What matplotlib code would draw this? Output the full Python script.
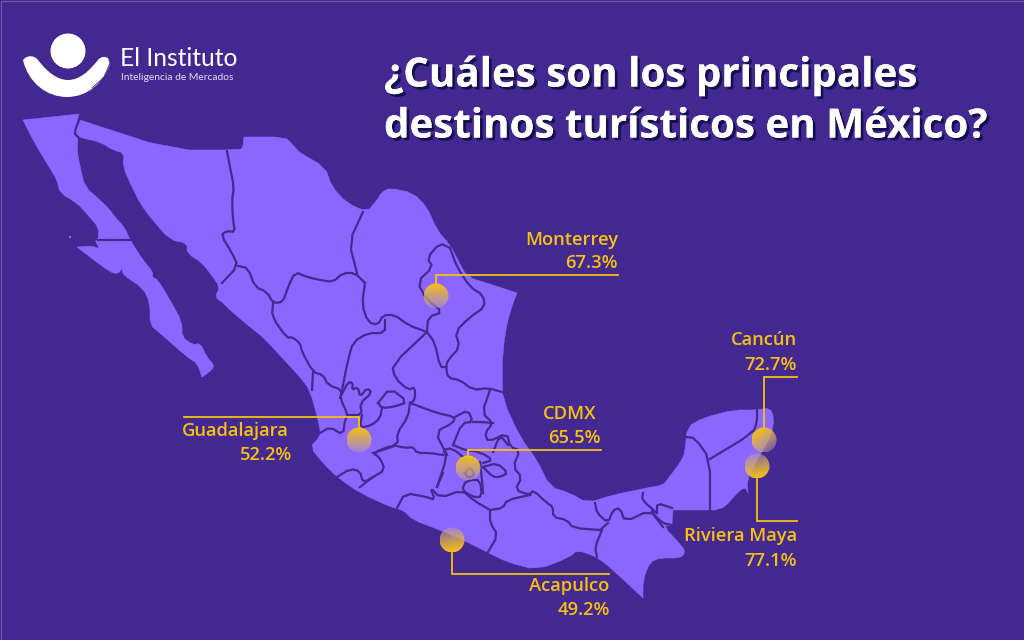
import numpy as np
import matplotlib
matplotlib.use("Agg")
import matplotlib.pyplot as plt
import matplotlib.patheffects as pe
from matplotlib.patches import Circle, PathPatch, Polygon
from matplotlib.path import Path

BG = "#432891"
LAND = "#8b66ff"
BORDER = "#46298f"
GOLD = "#f5c211"
MARKER_R = 12.5

# Destinos y ocupacion
cities = ["Monterrey", "Cancún", "CDMX", "Guadalajara", "Riviera Maya", "Acapulco"]
percent = [67.3, 72.7, 65.5, 52.2, 77.1, 49.2]

# Posicion de cada marcador en el mapa (px)
city_x = [436, 764, 468, 359, 757, 452]
city_y = [296, 440, 468, 440, 466, 540]
# Esquina y final de la linea guia
elbow_y = [275, 377, 450, 417, 521, 574]
end_x = [618, 797, 601, 184, 797, 609]
# Centro vertical del nombre y del porcentaje, y borde derecho del texto
name_y = [240, 340, 414, 431, 536, 586]
pct_y = [263, 365, 438, 455, 561, 610]
text_right = [618, 797, 596, 289, 797, 609]
pct_right = [618, 797, 601, 292, 797, 610]
# Angulo hacia el lado dorado del degradado (grados, 90 = arriba)
fade_angle = [90, 125, 90, 90, 280, 280]

# Contornos trazados del mapa (los puntos repetidos son esquinas vivas)
baja = [(79, 114), (79, 114), (74, 133), (78, 137), (77, 150), (80, 167), (85, 187), (100, 200), (110, 210),
        (115, 217), (125, 228), (130, 240), (143, 260), (153, 272), (152, 277), (158, 280), (170, 300), (182, 322),
        (182, 337), (193, 345), (200, 343), (207, 357), (214, 365), (212, 370), (202, 377), (202, 377), (197, 363),
        (187, 357), (160, 333), (150, 325), (150, 303), (143, 288), (123, 275), (122, 268), (118, 274), (110, 272),
        (90, 257), (77, 247), (77, 247), (92, 246), (100, 249), (95, 241), (98, 240), (99, 228), (88, 215),
        (77, 203), (60, 193), (57, 180), (48, 165), (37, 147), (28, 130), (23, 120), (23, 120)]
mainland = [(80, 120), (80, 120), (172, 150), (240, 150), (243, 147), (244, 137), (244, 137), (285, 137), (293, 145),
            (300, 153), (325, 167), (332, 187), (347, 203), (367, 212), (377, 200), (382, 192), (390, 188), (413, 193),
            (427, 207), (437, 230), (450, 245), (458, 260), (467, 277), (493, 285), (517, 293), (517, 293), (513, 303),
            (507, 323), (503, 350), (502, 377), (503, 400), (520, 437), (537, 460), (550, 487), (570, 493),
            (587, 503), (613, 495), (637, 490), (647, 488), (663, 485), (667, 480), (680, 463), (685, 453),
            (687, 427), (703, 418), (733, 410), (757, 410), (770, 408), (774, 418), (772, 433), (767, 443),
            (757, 460), (747, 480), (748, 493), (748, 493), (745, 487), (737, 493), (725, 507), (715, 510), (715, 510),
            (673, 510), (673, 510), (672, 525), (672, 525), (663, 526), (683, 547), (685, 553), (680, 558), (660, 558),
            (650, 562), (643, 580), (643, 598), (643, 598), (613, 570), (597, 557), (577, 550), (570, 557), (537, 570),
            (507, 562), (487, 552), (463, 540), (440, 530), (413, 520), (403, 510), (393, 508), (360, 493), (337, 477),
            (323, 463), (310, 447), (320, 437), (320, 427), (310, 390), (300, 377), (287, 363), (263, 337),
            (250, 327), (230, 310), (223, 303), (215, 297), (220, 287), (210, 273), (202, 263), (187, 253),
            (187, 243), (170, 240), (150, 217), (140, 203), (132, 187), (123, 167), (124, 153), (113, 150),
            (100, 142), (78, 137), (74, 133)]
borders = [
    [(98, 240), (130, 240)],
    [(80, 118), (74, 133), (78, 137)],
    [(227, 151), (230, 167), (234, 187), (232, 200), (233, 220), (235, 232), (227, 231), (221, 235), (232, 253), (238, 266), (222, 283)],
    [(238, 266), (248, 268), (255, 287), (267, 292), (273, 303), (283, 302), (288, 287), (295, 272), (307, 277), (320, 280), (333, 282), (343, 273), (355, 273), (365, 283)],
    [(363, 212), (349, 242), (357, 273)],
    [(365, 283), (362, 305), (368, 322), (378, 325), (383, 315), (395, 315), (408, 325), (427, 332)],
    [(273, 303), (272, 317), (287, 338), (292, 337), (300, 343), (302, 352), (313, 372), (323, 375), (328, 385), (342, 390), (340, 398), (348, 415), (345, 420), (343, 435), (330, 427), (320, 433)],
    [(313, 372), (312, 390)],
    [(342, 390), (348, 360), (353, 342), (368, 333), (385, 333), (385, 320)],
    [(427, 332), (392, 365), (395, 378), (408, 390), (415, 387), (415, 400), (410, 403)],
    [(427, 332), (428, 317), (443, 312), (427, 300), (417, 282), (433, 267), (427, 258), (440, 243), (450, 248)],
    [(450, 248), (457, 267), (470, 287), (483, 295), (485, 307), (470, 317), (455, 332), (460, 347), (448, 360), (446, 367), (448, 378), (460, 380), (473, 390), (488, 388), (502, 392)],
    [(427, 332), (435, 343), (440, 367), (446, 367)],
    [(490, 390), (482, 413), (493, 423), (485, 433), (488, 442), (507, 433), (510, 447), (520, 450), (513, 467), (522, 477), (515, 490), (530, 495), (533, 490), (547, 503), (553, 507), (553, 517), (567, 520), (573, 528), (600, 530)],
    [(530, 495), (507, 500), (503, 508), (490, 510)],
    [(490, 510), (490, 523), (498, 535), (488, 552)],
    [(397, 508), (405, 493), (427, 497), (435, 500), (430, 487), (440, 498), (462, 490), (473, 500), (490, 510)],
    [(437, 487), (447, 457), (443, 450), (452, 448), (467, 460)],
    [(360, 487), (373, 477), (385, 470), (380, 458), (373, 453), (393, 445), (405, 448), (413, 447), (417, 453), (430, 453), (443, 455)],
    [(337, 477), (350, 469), (360, 471), (363, 483), (373, 477)],
    [(348, 415), (362, 415), (360, 403), (372, 393), (367, 388), (360, 397), (358, 387), (352, 390), (353, 383), (348, 382), (340, 398)],
    [(378, 403), (390, 388), (408, 402), (393, 407), (382, 408), (378, 403)],
    [(382, 408), (380, 418), (372, 425), (360, 428), (362, 415)],
    [(410, 403), (408, 417), (397, 433), (398, 445), (373, 453)],
    [(410, 403), (437, 413), (455, 417), (453, 423), (435, 432), (447, 455)],
    [(455, 417), (468, 410), (473, 422), (462, 423), (453, 445)],
    [(473, 422), (482, 422), (493, 423)],
    [(453, 445), (465, 450), (480, 452), (493, 460), (483, 463)],
    [(483, 467), (497, 463), (508, 473), (500, 477), (493, 477), (483, 467)],
    [(493, 452), (500, 435), (508, 445)],
    [(465, 473), (470, 467), (475, 475), (468, 478), (465, 473)],
    [(465, 483), (462, 490), (473, 497), (482, 497), (480, 480), (470, 480), (465, 483)],
    [(443, 473), (437, 487)],
    [(480, 462), (482, 480), (483, 493)],
    [(602, 530), (595, 547), (597, 557)],
    [(595, 503), (597, 513), (608, 523), (613, 510), (620, 508), (625, 522), (650, 510), (662, 523), (672, 525)],
    [(643, 493), (642, 500), (657, 513), (650, 510), (663, 527)],
    [(657, 513), (657, 503), (672, 508)],
    [(600, 530), (608, 523)],
    [(686, 437), (695, 438), (710, 459), (710, 510)],
    [(710, 459), (753, 433), (757, 422), (757, 410)],
]


def smooth(points, closed=False):
    # Una pasada de Chaikin para quitar el aspecto poligonal
    pts = np.array(points, dtype=float)
    if closed:
        pts = np.vstack([pts, pts[0]])
    q = 0.75 * pts[:-1] + 0.25 * pts[1:]
    r = 0.25 * pts[:-1] + 0.75 * pts[1:]
    out = np.empty((len(q) * 2, 2))
    out[0::2] = q
    out[1::2] = r
    if not closed:
        out = np.vstack([pts[0], out, pts[-1]])
    return out


fig = plt.figure(figsize=(10.24, 6.4), dpi=100, facecolor=BG)
ax = fig.add_axes([0, 0, 1, 1])
ax.set_xlim(0, 1024)
ax.set_ylim(640, 0)
ax.axis("off")

# Mapa
ax.add_patch(Polygon(smooth(baja, True), closed=True, fc=LAND, ec=LAND, lw=0.4, zorder=1))
ax.add_patch(Polygon(smooth(mainland, True), closed=True, fc=LAND, ec=LAND, lw=0.4, zorder=1))
ax.add_patch(Circle((70, 237), 1.2, fc=LAND, ec="none", zorder=1))
for line in borders:
    pts = smooth(line)
    ax.plot(pts[:, 0], pts[:, 1], color=BORDER, lw=1.6, solid_joinstyle="round", zorder=2)


def draw_marker(x, y, angle):
    # Circulo con degradado dorado -> transparente
    r = MARKER_R
    grid = np.linspace(-1, 1, 60)
    gx, gy = np.meshgrid(grid, grid)
    a = np.radians(angle)
    t = (gx * np.cos(a) - gy * np.sin(a) + 1) / 2
    t = np.clip(t, 0, 1) ** 0.7
    rgba = np.zeros((60, 60, 4))
    rgba[..., 0] = 0.72 + t * (0.96 - 0.72)
    rgba[..., 1] = 0.60 + t * (0.76 - 0.60)
    rgba[..., 2] = 0.74 + t * (0.07 - 0.74)
    rgba[..., 3] = 0.45 + t * 0.55
    im = ax.imshow(rgba, extent=(x - r, x + r, y + r, y - r), zorder=3, interpolation="bilinear", aspect="auto")
    im.set_clip_path(Circle((x, y), r, transform=ax.transData))


# Marcadores, lineas guia y etiquetas
label_font = dict(family="Open Sans", weight="semibold", fontsize=13.2, color=GOLD, ha="right", va="center")
for i, name in enumerate(cities):
    draw_marker(city_x[i], city_y[i], fade_angle[i])
    # la linea sale del borde del circulo
    start_y = city_y[i] + np.sign(elbow_y[i] - city_y[i]) * MARKER_R
    ax.plot([city_x[i], city_x[i], end_x[i]], [start_y, elbow_y[i], elbow_y[i]],
            color=GOLD, lw=1.3, solid_joinstyle="miter", zorder=4)
    ax.text(text_right[i], name_y[i], name, zorder=5, **label_font)
    ax.text(pct_right[i], pct_y[i], f"{percent[i]}%", zorder=5, **label_font)

# Logo
ax.add_patch(Circle((68, 51), 17.5, fc="white", ec="none", zorder=3))
smile = Path(
    [(23, 60), (27, 55), (34, 55), (38, 60),
     (48, 73), (58, 80), (68, 80), (80, 80), (90, 70), (98, 60),
     (102, 55), (108, 58), (110, 64),
     (104, 82), (88, 97), (67, 97), (46, 97), (28, 82), (23, 60)],
    [Path.MOVETO, Path.CURVE4, Path.CURVE4, Path.CURVE4,
     Path.CURVE4, Path.CURVE4, Path.CURVE4, Path.CURVE4, Path.CURVE4, Path.CURVE4,
     Path.CURVE3, Path.CURVE3, Path.LINETO,
     Path.CURVE4, Path.CURVE4, Path.CURVE4, Path.CURVE4, Path.CURVE4, Path.CURVE4])
ax.add_patch(PathPatch(smile, fc="white", ec="none", zorder=3))
ax.plot([110, 104, 92], [63, 77, 88], color=BG, lw=0.6, zorder=4)
ax.text(120, 58, "El Instituto", family="Lato", fontsize=17.7, color="white", ha="left", va="center")
ax.text(121, 77, "Inteligencia de Mercados", family="Lato", fontsize=7.4, color="#e4dcf5", ha="left", va="center")

# Titulo con sombra
shadow = [pe.withSimplePatchShadow(offset=(2, -2), shadow_rgbFace="#14104f", alpha=1), pe.Normal()]
title_font = dict(family="Open Sans", weight="bold", fontsize=29, color="white", ha="left", va="center",
                  path_effects=shadow, zorder=6)
ax.text(384, 76, "¿Cuáles son los principales", **title_font)
ax.text(384, 127, "destinos turísticos en México?", **title_font)

# Borde fino claro de la imagen
ax.plot([0.5, 0.5, 1024], [640, 0.5, 0.5], color="#6f5aa8", lw=0.8, zorder=7)

fig.savefig("out.png", dpi=100, facecolor=BG)
